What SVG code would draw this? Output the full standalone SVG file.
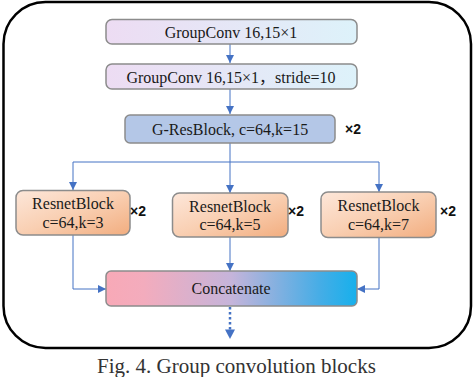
<svg xmlns="http://www.w3.org/2000/svg" width="474" height="377" viewBox="0 0 474 377">
<defs>
<linearGradient id="gConv" x1="0" y1="0" x2="1" y2="0">
<stop offset="0" stop-color="#eddcf3"/>
<stop offset="1" stop-color="#ddf2fa"/>
</linearGradient>
<linearGradient id="gRes" x1="0" y1="0" x2="1" y2="1">
<stop offset="0" stop-color="#fde7da"/>
<stop offset="0.5" stop-color="#f9cfb2"/>
<stop offset="1" stop-color="#f2ad7f"/>
</linearGradient>
<linearGradient id="gCat" x1="0" y1="0" x2="1" y2="0">
<stop offset="0" stop-color="#f8a9b7"/>
<stop offset="0.15" stop-color="#f3acbd"/>
<stop offset="0.5" stop-color="#c5b4da"/>
<stop offset="0.85" stop-color="#46ade6"/>
<stop offset="1" stop-color="#16b0ec"/>
</linearGradient>
<marker id="ah" viewBox="0 0 10 10" refX="10" refY="5" markerWidth="8" markerHeight="8" markerUnits="userSpaceOnUse" orient="auto">
<path d="M0,0 L10,5 L0,10 z" fill="#4472c4"/>
</marker>
</defs>
<style>
.box{stroke:#8c8c8c;stroke-width:1.5}
.t{font-family:'Liberation Serif','Noto Sans CJK SC',serif;font-size:16px;fill:#1a1a1a;text-anchor:middle}
.x2{font-family:'Liberation Sans',Arial,sans-serif;font-size:14px;font-weight:bold;fill:#111}
.c{fill:none;stroke:#4472c4;stroke-width:1}
</style>
<rect x="3.5" y="2" width="467.5" height="346" rx="42" ry="42" fill="#fff" stroke="#000" stroke-width="2.5"/>

<g id="connectors">
<line class="c" x1="230" y1="44" x2="230" y2="63" marker-end="url(#ah)"/>
<line class="c" x1="230" y1="89" x2="230" y2="114" marker-end="url(#ah)"/>
<polyline class="c" points="230,143 230,162"/>
<line class="c" x1="73" y1="162" x2="379" y2="162"/>
<line class="c" x1="73" y1="162" x2="73" y2="190" marker-end="url(#ah)"/>
<line class="c" x1="230" y1="162" x2="230" y2="193" marker-end="url(#ah)"/>
<line class="c" x1="379" y1="162" x2="379" y2="192" marker-end="url(#ah)"/>
<polyline class="c" points="73,235 73,289 106,289" marker-end="url(#ah)"/>
<line class="c" x1="230" y1="237" x2="230" y2="271" marker-end="url(#ah)"/>
<polyline class="c" points="379,238 379,289 357,289" marker-end="url(#ah)"/>
<line x1="230" y1="307" x2="230" y2="330" stroke="#4472c4" stroke-width="2.5" stroke-dasharray="2.5,2.5"/>
<path d="M225,329.5 L235,329.5 L230,339 z" fill="#4472c4"/>
</g>

<g id="groupconv1">
<rect class="box" x="106" y="19.5" width="251" height="24.5" rx="6" fill="url(#gConv)"/>
<text class="t" x="231" y="38">GroupConv 16,15×1</text>
</g>
<g id="groupconv2">
<rect class="box" x="106" y="64" width="251" height="25" rx="6" fill="url(#gConv)"/>
<text class="t" x="231" y="82.5">GroupConv 16,15×1，stride=10</text>
</g>
<g id="gresblock">
<rect class="box" x="125" y="115" width="210" height="28" rx="5" fill="#b4c7e7"/>
<text class="t" x="230" y="135">G-ResBlock, c=64,k=15</text>
<text class="x2" x="345" y="134">×2</text>
</g>
<g id="resnet3">
<rect class="box" x="16" y="190.5" width="114" height="44.5" rx="7" fill="url(#gRes)"/>
<text class="t" x="73" y="209">ResnetBlock</text>
<text class="t" x="73" y="228">c=64,k=3</text>
<text class="x2" x="130" y="216">×2</text>
</g>
<g id="resnet5">
<rect class="box" x="172.5" y="193" width="115.5" height="44" rx="7" fill="url(#gRes)"/>
<text class="t" x="230" y="211.5">ResnetBlock</text>
<text class="t" x="230" y="230">c=64,k=5</text>
<text class="x2" x="288" y="216">×2</text>
</g>
<g id="resnet7">
<rect class="box" x="321" y="192" width="115" height="45.5" rx="7" fill="url(#gRes)"/>
<text class="t" x="378.5" y="211">ResnetBlock</text>
<text class="t" x="378.5" y="230">c=64,k=7</text>
<text class="x2" x="440" y="216">×2</text>
</g>
<g id="concatenate">
<rect class="box" x="106" y="271" width="251" height="35" rx="5" fill="url(#gCat)"/>
<text class="t" x="231" y="294">Concatenate</text>
</g>
<text x="97" y="372.5" font-family="Liberation Serif,serif" font-size="21" fill="#333">Fig. 4. Group convolution blocks</text>
</svg>
